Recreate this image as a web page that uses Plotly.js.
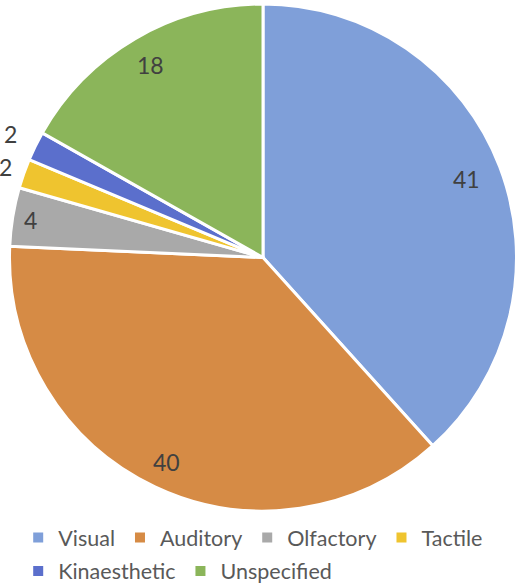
<!DOCTYPE html>
<html>
<head>
<meta charset="utf-8">
<script src="https://cdn.plot.ly/plotly-3.0.1.min.js"></script>
<style>html,body{margin:0;padding:0;background:#fff;}#chart{width:520px;height:588px;}</style>
</head>
<body>
<div id="chart"></div>
<script>
// ---- data ----
const categories = ["Visual", "Auditory", "Olfactory", "Tactile", "Kinaesthetic", "Unspecified"];
const values = [41, 40, 4, 2, 2, 18];
// ---- styles ----
const colors = ["#7F9FD9", "#D68B45", "#A9A9A9", "#EFC42F", "#5B6FCC", "#8BB55A"];
const labelRadius = [0.86, 0.89, 0.93, 1.077, 1.11, 0.88];   // label distance as fraction of radius
const legendRow = ["legend", "legend", "legend", "legend", "legend2", "legend2"];

const W = 520, H = 588;
const pieBox = { x0: 9.5, x1: 516.5, y0: 4, y1: 511 }; // pixel box of pie domain
const FONT = "Lato, 'Open Sans', sans-serif";

const pie = {
  type: "pie",
  labels: categories,
  values: values,
  sort: false,
  direction: "clockwise",
  rotation: 0,
  marker: { colors: colors, line: { color: "#ffffff", width: 3 } },
  textinfo: "none",
  showlegend: false,
  hoverinfo: "label+value",
  domain: { x: [pieBox.x0 / W, pieBox.x1 / W], y: [1 - pieBox.y1 / H, 1 - pieBox.y0 / H] }
};

// legend entries (empty traces used only to form two legend rows)
const legendTraces = categories.map((c, i) => ({
  type: "scatter", mode: "markers", x: [null], y: [null], name: c,
  marker: { symbol: "square", size: 10, color: colors[i] },
  legend: legendRow[i], showlegend: true, hoverinfo: "skip"
}));

// value labels positioned from the data (mid-angle of each slice)
const total = values.reduce((a, b) => a + b, 0);
const cx = (pieBox.x0 + pieBox.x1) / 2, cy = (pieBox.y0 + pieBox.y1) / 2;
const R = (pieBox.x1 - pieBox.x0) / 2;
let cum = 0;
const annotations = values.map((v, i) => {
  const mid = (cum + v / 2) / total * 2 * Math.PI;
  cum += v;
  const px = cx + labelRadius[i] * R * Math.sin(mid);
  const py = cy - labelRadius[i] * R * Math.cos(mid);
  return {
    xref: "paper", yref: "paper", x: px / W, y: 1 - py / H,
    xanchor: "center", yanchor: "middle", showarrow: false,
    text: String(v), font: { family: FONT, size: 23, color: "#404040" }
  };
});

const legendBase = {
  orientation: "h", xanchor: "left", yanchor: "middle",
  font: { family: FONT, size: 21.5, color: "#595959" },
  bgcolor: "rgba(0,0,0,0)", itemwidth: 30, traceorder: "normal"
};

const layout = {
  width: W, height: H,
  margin: { l: 0, r: 0, t: 0, b: 0, autoexpand: false },
  paper_bgcolor: "#ffffff", plot_bgcolor: "#ffffff",
  xaxis: { visible: false, domain: [0, 0.01] },
  yaxis: { visible: false, domain: [0, 0.01] },
  showlegend: true,
  legend: Object.assign({}, legendBase, { x: 0.035, y: 1 - 537.5 / H }),
  legend2: Object.assign({}, legendBase, { x: 0.035, y: 1 - 571 / H }),
  annotations: annotations
};

Plotly.newPlot("chart", [pie].concat(legendTraces), layout, { displayModeBar: false, staticPlot: true });
</script>
</body>
</html>
